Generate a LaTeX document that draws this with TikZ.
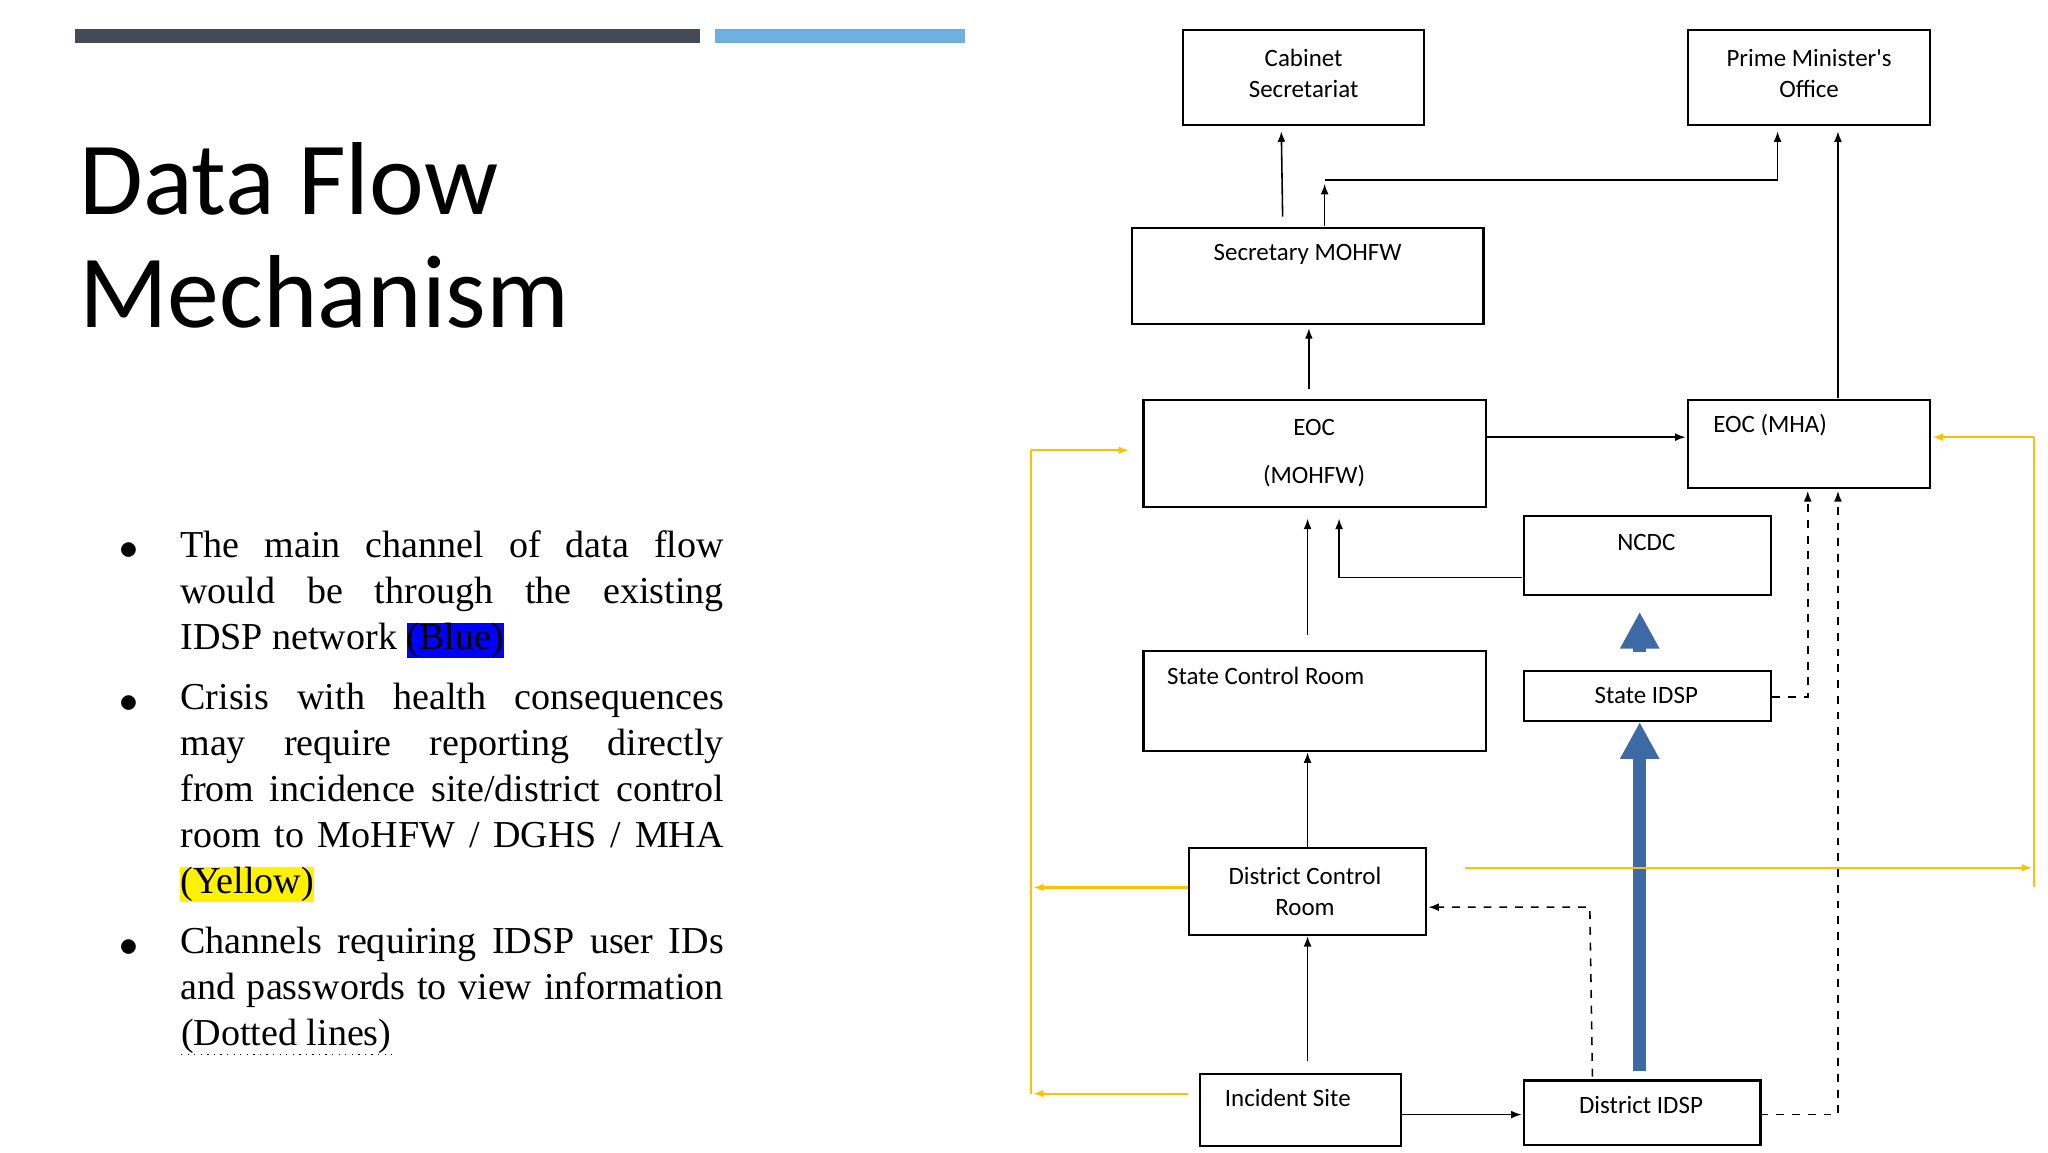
\documentclass[tikz,border=0pt]{standalone}
\usepackage{fontspec}
\setmainfont{Liberation Serif}
\newfontfamily\sans{Carlito}
\usetikzlibrary{arrows.meta}
\definecolor{ylw}{HTML}{FFC000}
\definecolor{bl}{HTML}{3D6AA5}
\newcommand{\myDotUl}[1]{\tikz[baseline=(t.base)]{\node[inner sep=0,outer sep=0](t){#1};\draw[dotted,line width=0.5pt]([yshift=-0.3pt]t.south west)--([yshift=-0.3pt]t.south east);}}
\begin{document}
\begin{tikzpicture}[x=0.5pt,y=-0.5pt,
 lab/.style={font=\sans\fontsize{9.5}{11.5}\selectfont,align=center},
 ar/.style={-{Latex[length=4pt,width=3pt]},line width=0.6pt},
 da/.style={ar,dashed},
 ya/.style={-{Latex[length=4pt,width=3pt]},line width=0.8pt,ylw},
 bul/.style={anchor=north west,text width=207pt,align=justify,inner sep=0,font=\fontsize{14.5}{17.5}\selectfont}]
\useasboundingbox (0,0) rectangle (1560,878);
\fill[fill={rgb,255:red,68;green,75;blue,86}] (57,22) rectangle (533,33);
\fill[fill={rgb,255:red,112;green,176;blue,224}] (545,22) rectangle (735,33);
\node[anchor=north west,inner sep=0,align=left,font=\sans\fontsize{39.5}{43}\selectfont] (title) at (60,108) {Data Flow\\Mechanism};
% bullets
\foreach \y in {420,536,722} \node[font=\fontsize{14.5}{17.5}\selectfont] at (98,\y) {$\bullet$};
\node[bul] (b1) at (137,404) {The main channel of data flow would be through the existing\linebreak IDSP network {\fboxsep=0pt\colorbox{blue}{(Blue)}}};
\node[bul] (b2) at (137,520) {Crisis with health consequences may require reporting directly from incidence site/district control room to MoHFW / DGHS / MHA {\fboxsep=0pt\colorbox{yellow}{(Yellow)}}};
\node[bul] (b3) at (137,706) {Channels requiring IDSP user IDs and passwords to view information \myDotUl{(Dotted lines)}};
% boxes
\draw[line width=0.8pt] (901,23) rectangle (1085,95);
\node[lab] (cab) at (993,56) {Cabinet\\Secretariat};
\draw[line width=0.8pt] (1286,23) rectangle (1470,95);
\node[lab] (pmo) at (1378,56) {Prime Minister's\\Office};
\draw[line width=0.8pt] (862,174) rectangle (1130,247);
\node[lab] (sec) at (996,194) {Secretary MOHFW};
\draw[line width=0.8pt] (871,305) rectangle (1132,386);
\node[lab] (eoc) at (1001,345) {EOC\\[7pt](MOHFW)};
\draw[line width=0.8pt] (1286,305) rectangle (1470,372);
\node[lab,anchor=west] (mha) at (1298,324) {EOC (MHA)};
\draw[line width=0.8pt] (1161,393) rectangle (1349,453);
\node[lab] (ncdc) at (1254,413) {NCDC};
\draw[line width=0.8pt] (871,496) rectangle (1132,572);
\node[lab,anchor=west] (scr) at (882,515) {State Control Room};
\draw[line width=0.8pt] (1161,511) rectangle (1349,549);
\node[lab] (sidsp) at (1254,530) {State IDSP};
\draw[line width=0.8pt] (906,646) rectangle (1086,712);
\node[lab] (dcr) at (994,679) {District Control\\Room};
\draw[line width=0.8pt] (914,818) rectangle (1067,873);
\node[lab,anchor=west] (inc) at (926,836) {Incident Site};
\draw[line width=0.8pt] (1161,823) rectangle (1341,872);
\node[lab] (didsp) at (1250,842) {District IDSP};
% black arrows
\draw[ar] (977,165) -- (976,100);
\draw[ar] (1009,172) -- (1009,140);
\draw[ar] (1009,137) -- (1354,137) -- (1354,100);
\draw[ar] (1400,303) -- (1400,100);
\draw[ar] (997,296) -- (997,250);
\draw[ar] (1133,333) -- (1284,333);
\draw[ar] (1159,440) -- (1020,440) -- (1020,395);
\draw[ar] (996,484) -- (996,395);
\draw[ar] (996,645) -- (996,573);
\draw[ar] (996,808) -- (996,713);
\draw[ar] (1067,849) -- (1159,849);
% blue
\draw[bl,line width=5pt,-{Triangle[length=14pt,width=14pt]}] (1249,816) -- (1249,550);
\draw[bl,line width=5pt,-{Triangle[length=14pt,width=14pt]}] (1249,497) -- (1249,466);
% dashed
\draw[da] (1213,820) -- (1211,691) -- (1088,691);
\draw[da] (1350,531) -- (1377,531) -- (1377,374);
\draw[da] (1341,849) -- (1400,849) -- (1400,374);
% yellow
\draw[ya] (905,676) -- (787,676);
\draw[ya] (905,833) -- (787,833);
\draw[line width=0.8pt,ylw] (785,343) -- (785,833);
\draw[ya] (785,343) -- (860,343);
\draw[ya] (1116,661) -- (1548,661);
\draw[line width=0.8pt,ylw] (1549,333) -- (1549,676);
\draw[ya] (1549,333) -- (1472,333);
\end{tikzpicture}
\end{document}
